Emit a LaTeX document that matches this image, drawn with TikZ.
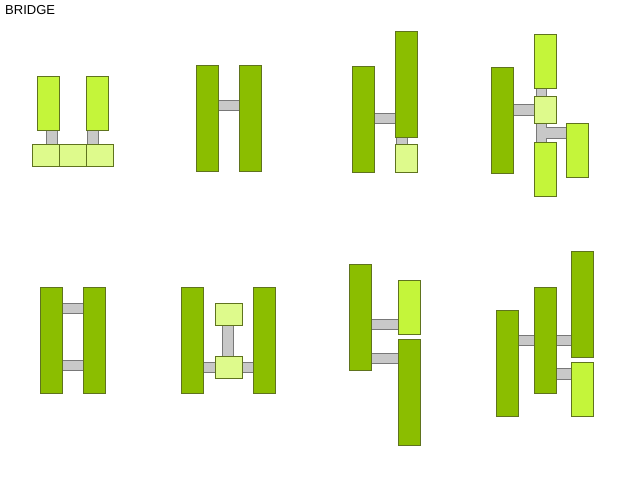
\documentclass[tikz,border=0pt]{standalone}
\usepackage{fontspec}
\setmainfont{Liberation Sans}
\usetikzlibrary{positioning, backgrounds}
\definecolor{stemdark}{RGB}{139,190,0}
\definecolor{stemlight}{RGB}{196,245,58}
\definecolor{stempale}{RGB}{222,250,140}
\definecolor{stemedge}{RGB}{95,115,30}
\definecolor{linkfill}{RGB}{200,200,200}
\definecolor{linkedge}{RGB}{120,120,120}
\tikzset{
    block/.style={draw=stemedge, line width=0.8pt, inner sep=0pt, outer sep=0pt, minimum width=22pt},
    tall/.style={block, fill=stemdark, minimum height=106pt},
    short/.style={block, fill=stemlight, minimum height=54pt},
    cell/.style={block, fill=stempale, minimum width=27pt, minimum height=22pt},
    link/.style={draw=linkedge, line width=0.8pt, double=linkfill, double distance=9.6pt}
}
\begin{document}
\begin{tikzpicture}[x=1pt, y=-1pt]
        \useasboundingbox (0,0) rectangle (640,478);
        \node[anchor=base west, inner sep=0pt, font=\fontsize{13}{15}\selectfont] (title) at (5,15) {BRIDGE};
        \node[short] (p1a) at (48,103) {};
        \node[short] (p1b) at (97,103) {};
        \node[cell] (p1c) at (45.5,155) {};
        \node[cell, right=0pt of p1c] (p1d) {};
        \node[cell, right=0pt of p1d] (p1e) {};
        \node[tall] (p2l) at (207,118.5) {};
        \node[tall] (p2r) at (250,118.5) {};
        \node[tall] (p3l) at (363,119) {};
        \node[tall] (p3r) at (406,84) {};
        \node[cell, minimum width=22pt, minimum height=28pt] (p3s) at (406,158) {};
        \node[tall] (p4l) at (502,120) {};
        \node[short] (p4t) at (545,61) {};
        \node[cell, minimum width=22pt, minimum height=27pt] (p4c) at (545,109.5) {};
        \node[short] (p4b) at (545,169.5) {};
        \node[short] (p4r) at (577.5,150.5) {};
        \coordinate (p4j) at (541.5,133);
        \node[tall] (p5l) at (51,340.5) {};
        \node[tall] (p5r) at (94,340.5) {};
        \node[tall] (p6l) at (192,340.5) {};
        \node[tall] (p6r) at (264,340.5) {};
        \node[cell] (p6t) at (228.5,314) {};
        \node[cell] (p6b) at (228.5,367) {};
        \node[tall] (p7l) at (360,317) {};
        \node[short] (p7t) at (409,307.5) {};
        \node[tall] (p7b) at (409,392) {};
        \node[tall] (p8l) at (507,363) {};
        \node[tall] (p8m) at (545,340.5) {};
        \node[tall] (p8r) at (582,304.5) {};
        \node[short] (p8s) at (582,389.5) {};
        \begin{scope}[on background layer]
            \draw[link] (p1a.south -| 52,0) -- (p1c.north -| 52,0);
            \draw[link] (p1b.south -| 93,0) -- (p1e.north -| 93,0);
            \draw[link] (p2l.east |- 0,105.5) -- (p2r.west |- 0,105.5);
            \draw[link] (p3l.east |- 0,118.5) -- (p3r.west |- 0,118.5);
            \draw[link] (p3r.south -| 402,0) -- (p3s.north -| 402,0);
            \draw[link] (p4t.south -| 541.5,0) -- (p4c.north -| 541.5,0);
            \draw[link] (p4l.east |- 0,110) -- (p4c.west |- 0,110);
            \draw[link] (p4c.south -| p4j) -- (p4b.north -| p4j) (p4j) -- (p4r.west |- p4j);
            \draw[link] (p5l.east |- 0,308.5) -- (p5r.west |- 0,308.5);
            \draw[link] (p5l.east |- 0,365.5) -- (p5r.west |- 0,365.5);
            \draw[link] (p6t.south -| 228,0) -- (p6b.north -| 228,0);
            \draw[link] (p6l.east |- 0,367.5) -- (p6r.west |- 0,367.5);
            \draw[link] (p7l.east |- 0,324.5) -- (p7t.west |- 0,324.5);
            \draw[link] (p7l.east |- 0,358.5) -- (p7b.west |- 0,358.5);
            \draw[link] (p8l.east |- 0,340.5) -- (p8m.west |- 0,340.5);
            \draw[link] (p8m.east |- 0,340.5) -- (p8r.west |- 0,340.5);
            \draw[link] (p8m.east |- 0,374) -- (p8s.west |- 0,374);
        \end{scope}
\end{tikzpicture}
\end{document}
